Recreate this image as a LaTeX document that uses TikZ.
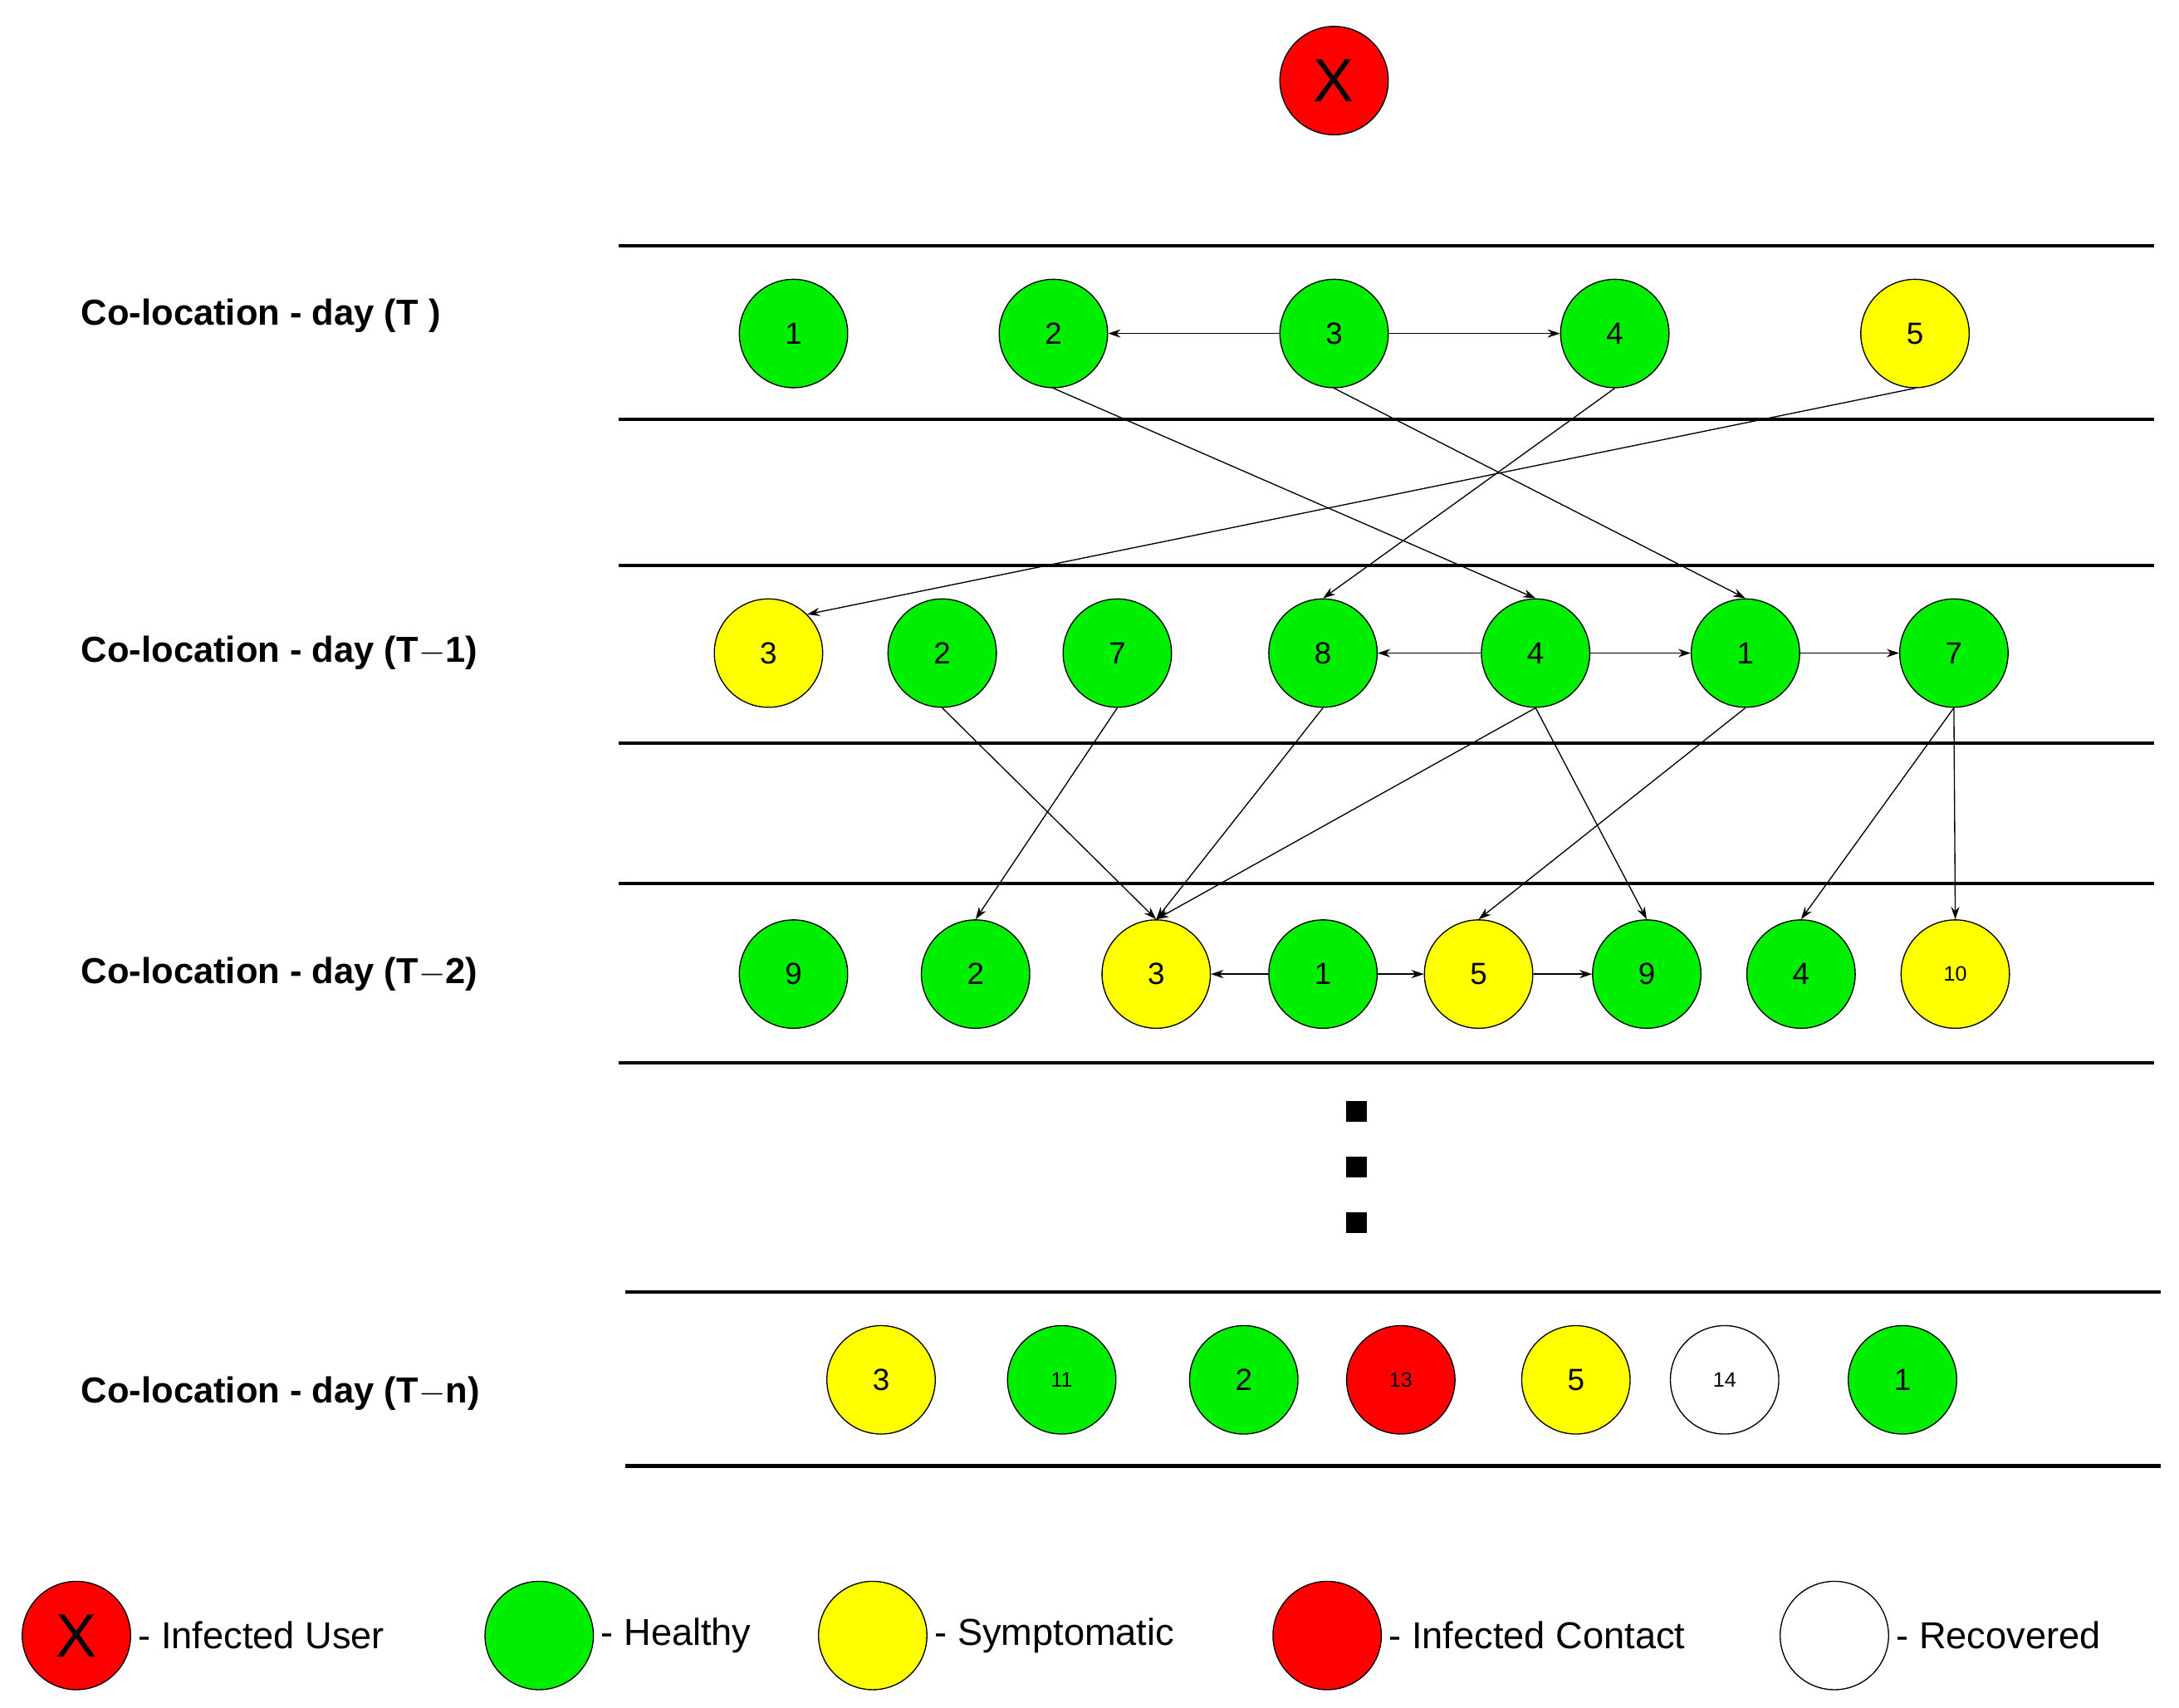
\documentclass[tikz,border=0pt]{standalone}
\usepackage{fontspec}
\setmainfont{Liberation Sans}
\usetikzlibrary{arrows.meta}
\definecolor{hg}{HTML}{00EE00}
\definecolor{sy}{HTML}{FFFF00}
\definecolor{rd}{HTML}{FF0000}
\begin{document}
\begin{tikzpicture}[x=1pt,y=-1pt,
  c/.style={circle,draw=black,line width=0.8pt,minimum size=78pt,inner sep=0pt,font=\fontsize{22}{24}\selectfont},
  g/.style={c,fill=hg}, yl/.style={c,fill=sy}, r/.style={c,fill=rd}, w/.style={c,fill=white},
  sm/.style={font=\fontsize{15}{17}\selectfont},
  band/.style={line width=2.5pt},
  lab/.style={anchor=west,font=\bfseries\fontsize{26}{30}\selectfont},
  leg/.style={anchor=west,font=\fontsize{27}{30}\selectfont},
  a/.style={-{Stealth[length=9pt,width=6pt]},line width=0.8pt}]
\useasboundingbox (0,0) rectangle (1568,1229);
\node[r,font=\fontsize{44}{44}\selectfont] (X) at (960,58) {X};
\foreach \y in {177,302,407,535,636,765} \draw[band] (445,\y) -- (1550,\y);
\foreach \y in {930,1055} \draw[band] (450,\y) -- (1555,\y);
\node[lab] (l0) at (55,227) {Co-location - day (T )};
\node[lab] (l1) at (55,470) {Co-location - day (T$-$1)};
\node[lab] (l2) at (55,701) {Co-location - day (T$-$2)};
\node[lab] (l3) at (55,1003) {Co-location - day (T$-$n)};
% row T
\node[g] (a1) at (571,240) {1};
\node[g] (a2) at (758,240) {2};
\node[g] (a3) at (960,240) {3};
\node[g] (a4) at (1162,240) {4};
\node[yl] (a5) at (1378,240) {5};
% row T-1
\node[yl] (b3) at (553,470) {3};
\node[g] (b2) at (678,470) {2};
\node[g] (b7) at (804,470) {7};
\node[g] (b8) at (952,470) {8};
\node[g] (b4) at (1105,470) {4};
\node[g] (b1) at (1256,470) {1};
\node[g] (b7b) at (1406,470) {7};
% row T-2
\node[g] (c9) at (571,701) {9};
\node[g] (c2) at (702,701) {2};
\node[yl] (c3) at (832,701) {3};
\node[g] (c1) at (952,701) {1};
\node[yl] (c5) at (1064,701) {5};
\node[g] (c9b) at (1185,701) {9};
\node[g] (c4) at (1296,701) {4};
\node[yl,sm] (c10) at (1407,701) {10};
% row T-n
\node[yl] (d3) at (634,993) {3};
\node[g,sm] (d11) at (764,993) {11};
\node[g] (d2) at (895,993) {2};
\node[r,sm] (d13) at (1008,993) {13};
\node[yl] (d5) at (1134,993) {5};
\node[w,sm] (d14) at (1241,993) {14};
\node[g] (d1) at (1369,993) {1};
% dots
\foreach \y/\n in {800/p1,840/p2,880/p3} \node[fill=black,minimum size=15pt,inner sep=0pt] (\n) at (976,\y) {};
% arrows
\draw[a] (a3) -- (a2);
\draw[a] (a3) -- (a4);
\draw[a] (a2.south) -- (b4.north);
\draw[a] (a3.south) -- (b1.north);
\draw[a] (a4.south) -- (b8.north);
\draw[a] (a5.south) -- (b3.north east);
\draw[a] (b4) -- (b8);
\draw[a] (b4) -- (b1);
\draw[a] (b1) -- (b7b);
\draw[a] (b2.south) -- (c3.north);
\draw[a] (b7.south) -- (c2.north);
\draw[a] (b8.south) -- (c3.north);
\draw[a] (b4.south) -- (c3.north);
\draw[a] (b4.south) -- (c9b.north);
\draw[a] (b1.south) -- (c5.north);
\draw[a] (b7b.south) -- (c4.north);
\draw[a] (b7b.south) -- (c10.north);
\draw[a] (c1) -- (c3);
\draw[a] (c1) -- (c5);
\draw[a] (c5) -- (c9b);
% legend
\node[r,font=\fontsize{44}{44}\selectfont] (L1) at (55,1177) {X};
\node[leg] (t1) at (96,1177) {- Infected User};
\node[g] (L2) at (388,1177) {};
\node[leg] (t2) at (429,1177) {- Healthy};
\node[yl] (L3) at (628,1177) {};
\node[leg] (t3) at (669,1177) {- Symptomatic};
\node[r] (L4) at (955,1177) {};
\node[leg] (t4) at (996,1177) {- Infected Contact};
\node[w] (L5) at (1320,1177) {};
\node[leg] (t5) at (1361,1177) {- Recovered};
\end{tikzpicture}
\end{document}
